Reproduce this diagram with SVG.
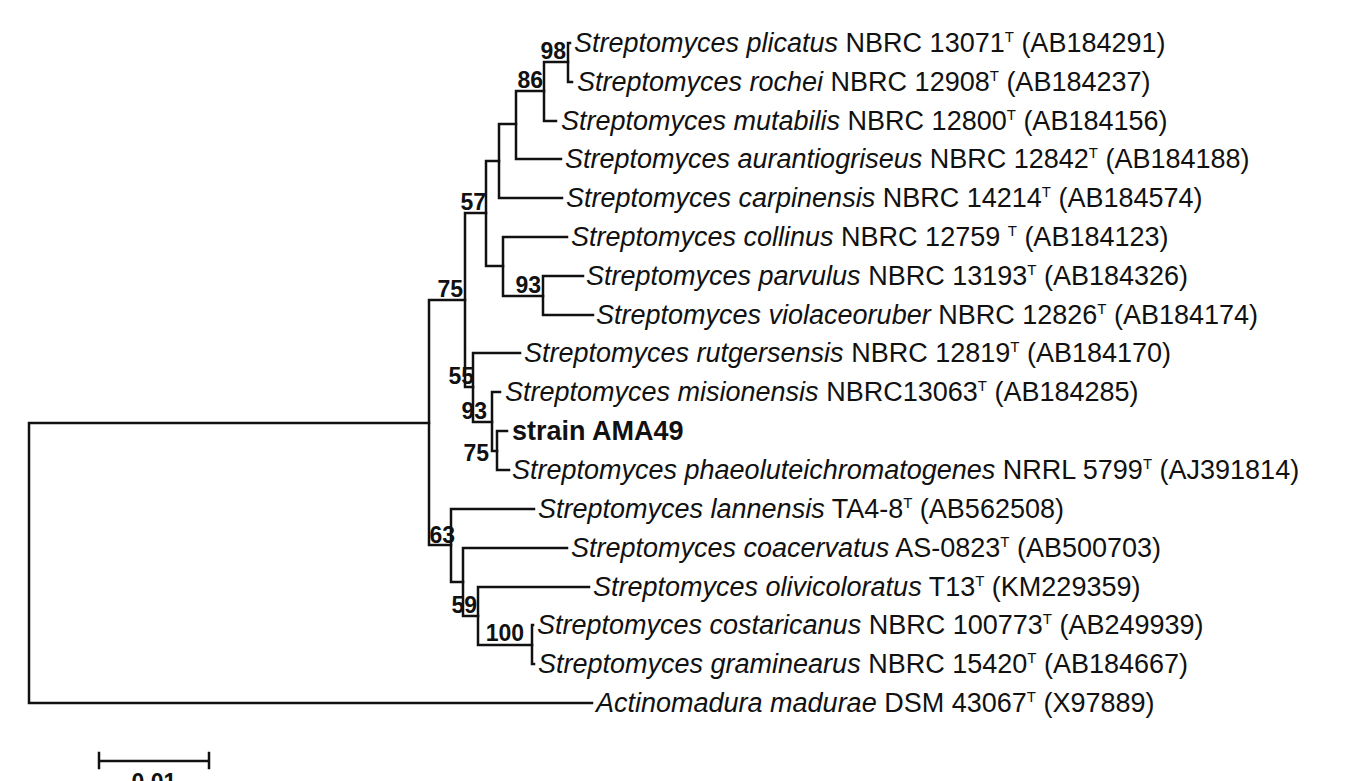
<svg xmlns="http://www.w3.org/2000/svg" width="1347" height="781" viewBox="0 0 1347 781">
<style>
.t{font-family:"Liberation Sans",Arial,sans-serif;font-size:27px;fill:#111}
.i{font-style:italic}
.s{font-size:15px}
.b{font-family:"Liberation Sans",Arial,sans-serif;font-size:23px;font-weight:bold;fill:#111}
.br{fill:none;stroke:#111;stroke-width:2.5;stroke-linecap:square}
</style>
<rect width="1347" height="781" fill="#fff"/>
<g id="connectors" class="br">
<path d="M29,423V703M29,423H429M29,703H592"/>
<path d="M429,300V545M429,300H465M429,545H451"/>
<path d="M465,213V387M465,213H486M465,387H473"/>
<path d="M486,161V266M486,161H499M486,266H503"/>
<path d="M499,124V198M499,124H516M499,198H562"/>
<path d="M516,91V159M516,91H544M516,159H561"/>
<path d="M544,62V121M544,62H568M544,121H556"/>
<path d="M568,43V82M568,43H570M568,82H572"/>
<path d="M503,237V296M503,237H567M503,296H543"/>
<path d="M543,276V315M543,276H583M543,315H593"/>
<path d="M473,353V422M473,353H520M473,422H492"/>
<path d="M492,392V451M492,392H500M492,451H497"/>
<path d="M497,431V470M497,431H507M497,470H509"/>
<path d="M451,509V582M451,509H534M451,582H463"/>
<path d="M463,548V616M463,548H567M463,616H478"/>
<path d="M478,587V645M478,587H589M478,645H532"/>
<path d="M532,625V664M532,625H533M532,664H534"/>
</g>
<g id="scalebar" class="br">
<path d="M99,761H209M99,753V768M209,753V768"/>
</g>
<text class="b" x="154" y="790" text-anchor="middle" font-size="24">0.01</text>
<g id="taxa">
<g id="plicatus"><text class="t" x="574" y="52"><tspan class="i">Streptomyces plicatus</tspan> NBRC 13071<tspan class="s" dy="-10">T</tspan><tspan dy="10"> (AB184291)</tspan></text></g>
<g id="rochei"><text class="t" x="577" y="91"><tspan class="i">Streptomyces rochei</tspan> NBRC 12908<tspan class="s" dy="-10">T</tspan><tspan dy="10"> (AB184237)</tspan></text></g>
<g id="mutabilis"><text class="t" x="561" y="130"><tspan class="i">Streptomyces mutabilis</tspan> NBRC 12800<tspan class="s" dy="-10">T</tspan><tspan dy="10"> (AB184156)</tspan></text></g>
<g id="aurantiogriseus"><text class="t" x="565" y="168"><tspan class="i">Streptomyces aurantiogriseus</tspan> NBRC 12842<tspan class="s" dy="-10">T</tspan><tspan dy="10"> (AB184188)</tspan></text></g>
<g id="carpinensis"><text class="t" x="566" y="207"><tspan class="i">Streptomyces carpinensis</tspan> NBRC 14214<tspan class="s" dy="-10">T</tspan><tspan dy="10"> (AB184574)</tspan></text></g>
<g id="collinus"><text class="t" x="571" y="246"><tspan class="i">Streptomyces collinus</tspan> NBRC 12759 <tspan class="s" dy="-10">T</tspan><tspan dy="10"> (AB184123)</tspan></text></g>
<g id="parvulus"><text class="t" x="586" y="285"><tspan class="i">Streptomyces parvulus</tspan> NBRC 13193<tspan class="s" dy="-10">T</tspan><tspan dy="10"> (AB184326)</tspan></text></g>
<g id="violaceoruber"><text class="t" x="596" y="324"><tspan class="i">Streptomyces violaceoruber</tspan> NBRC 12826<tspan class="s" dy="-10">T</tspan><tspan dy="10"> (AB184174)</tspan></text></g>
<g id="rutgersensis"><text class="t" x="524" y="362"><tspan class="i">Streptomyces rutgersensis</tspan> NBRC 12819<tspan class="s" dy="-10">T</tspan><tspan dy="10"> (AB184170)</tspan></text></g>
<g id="misionensis"><text class="t" x="505" y="401"><tspan class="i">Streptomyces misionensis</tspan> NBRC13063<tspan class="s" dy="-10">T</tspan><tspan dy="10"> (AB184285)</tspan></text></g>
<g id="AMA49"><text class="t" x="512" y="440" font-weight="bold">strain AMA49</text></g>
<g id="phaeoluteichromatogenes"><text class="t" x="512" y="479"><tspan class="i">Streptomyces phaeoluteichromatogenes</tspan> NRRL 5799<tspan class="s" dy="-10">T</tspan><tspan dy="10"> (AJ391814)</tspan></text></g>
<g id="lannensis"><text class="t" x="538" y="518"><tspan class="i">Streptomyces lannensis</tspan> TA4-8<tspan class="s" dy="-10">T</tspan><tspan dy="10"> (AB562508)</tspan></text></g>
<g id="coacervatus"><text class="t" x="571" y="557"><tspan class="i">Streptomyces coacervatus</tspan> AS-0823<tspan class="s" dy="-10">T</tspan><tspan dy="10"> (AB500703)</tspan></text></g>
<g id="olivicoloratus"><text class="t" x="593" y="596"><tspan class="i">Streptomyces olivicoloratus</tspan> T13<tspan class="s" dy="-10">T</tspan><tspan dy="10"> (KM229359)</tspan></text></g>
<g id="costaricanus"><text class="t" x="537" y="634"><tspan class="i">Streptomyces costaricanus</tspan> NBRC 100773<tspan class="s" dy="-10">T</tspan><tspan dy="10"> (AB249939)</tspan></text></g>
<g id="graminearus"><text class="t" x="538" y="673"><tspan class="i">Streptomyces graminearus</tspan> NBRC 15420<tspan class="s" dy="-10">T</tspan><tspan dy="10"> (AB184667)</tspan></text></g>
<g id="madurae"><text class="t" x="596" y="712"><tspan class="i">Actinomadura madurae</tspan> DSM 43067<tspan class="s" dy="-10">T</tspan><tspan dy="10"> (X97889)</tspan></text></g>
</g>
<g id="bootstrap">
<text class="b" x="566" y="59" text-anchor="end">98</text>
<text class="b" x="543" y="88" text-anchor="end">86</text>
<text class="b" x="486" y="210" text-anchor="end">57</text>
<text class="b" x="541" y="293" text-anchor="end">93</text>
<text class="b" x="463" y="297" text-anchor="end">75</text>
<text class="b" x="474" y="384" text-anchor="end">55</text>
<text class="b" x="487" y="419" text-anchor="end">93</text>
<text class="b" x="489" y="461" text-anchor="end">75</text>
<text class="b" x="455" y="543" text-anchor="end">63</text>
<text class="b" x="477" y="613" text-anchor="end">59</text>
<text class="b" x="524" y="641" text-anchor="end">100</text>
</g>
</svg>
